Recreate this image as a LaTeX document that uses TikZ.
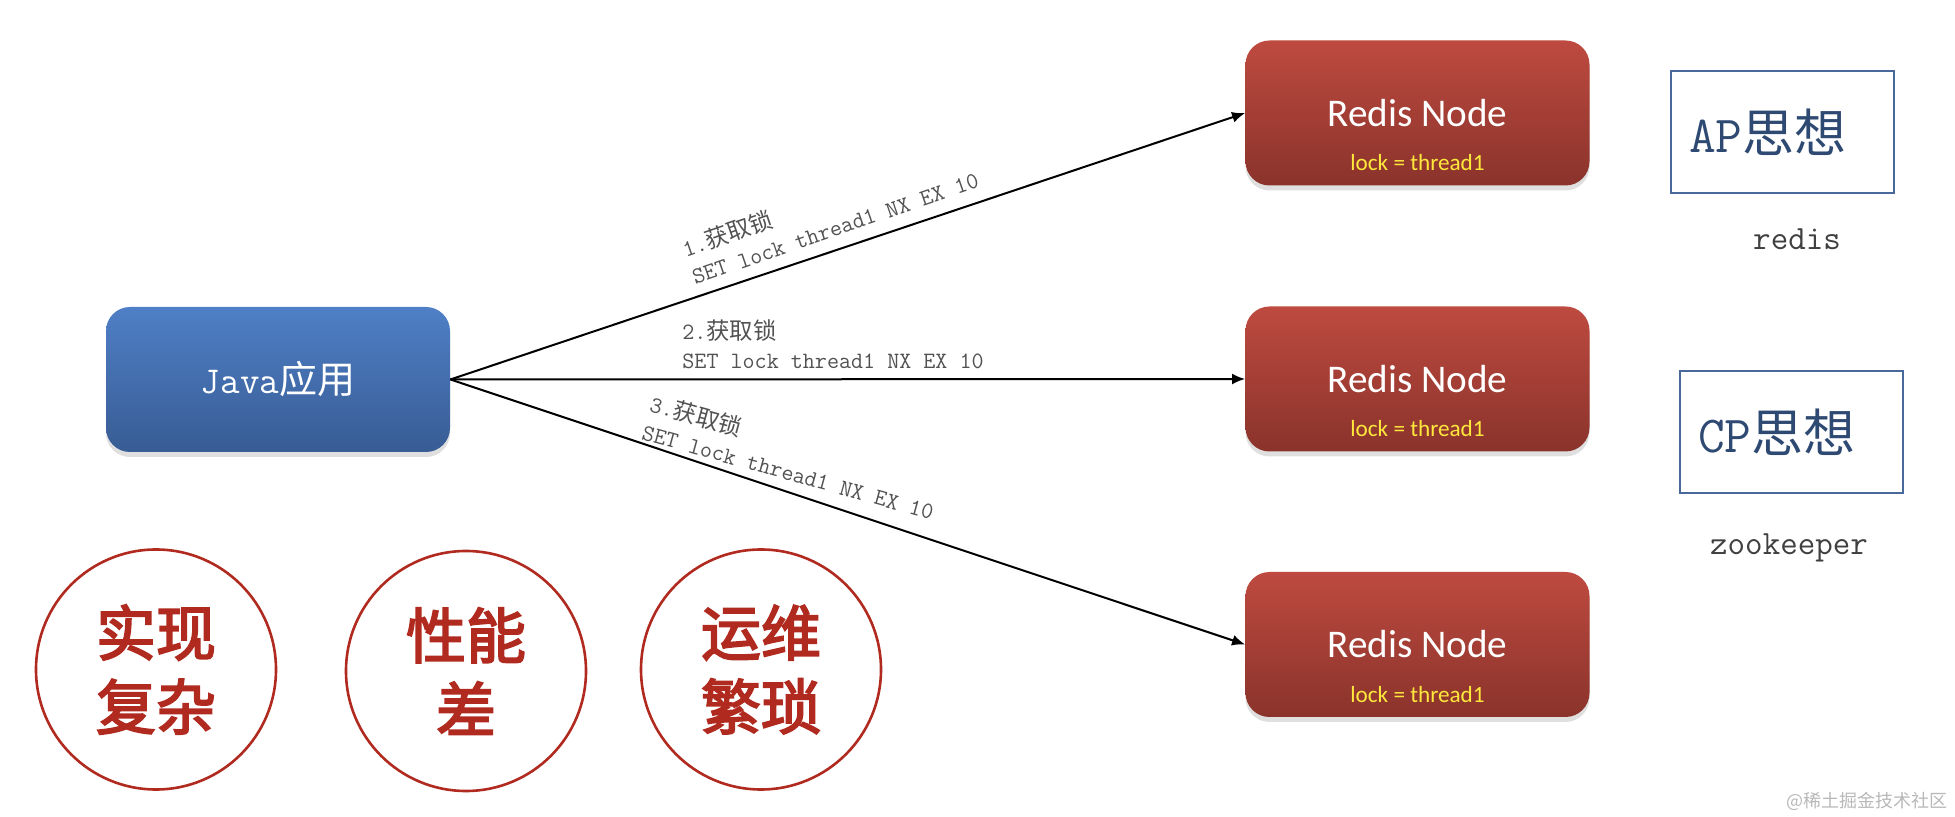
\documentclass[tikz,border=0pt]{standalone}
\usepackage{fontspec}
\newfontfamily\cjk{Noto Sans CJK SC}
\newfontfamily\cjkstamp[FakeBold=3]{Noto Sans CJK SC}
\newfontfamily\cali{Carlito}
\usetikzlibrary{shadows,arrows.meta}
\definecolor{redtop}{HTML}{BE4A40}
\definecolor{redmid}{HTML}{B0443A}
\definecolor{redbot}{HTML}{8A332B}
\definecolor{bluetop}{HTML}{4F7FC6}
\definecolor{bluemid}{HTML}{4873B4}
\definecolor{bluebot}{HTML}{385C94}
\definecolor{stampred}{HTML}{B02A20}
\definecolor{boxblue}{HTML}{48699A}
\definecolor{inkblue}{HTML}{2F4A72}
\definecolor{lockyellow}{HTML}{FFE83C}
\tikzset{>={Latex[length=6.5pt,width=5.5pt]}}
\tikzset{
	app/.style={rounded corners=12pt,minimum width=172pt,minimum height=72.5pt,inner sep=0pt,
		drop shadow={shadow xshift=0pt,shadow yshift=-2.5pt,opacity=.25}},
	rednode/.style={app,top color=redtop,middle color=redmid,bottom color=redbot,text=white,font=\cali\fontsize{19.6}{22}\selectfont},
	javanode/.style={app,top color=bluetop,middle color=bluemid,bottom color=bluebot,text=white,font=\ttfamily\fontsize{19}{22}\selectfont},
	locktext/.style={text=lockyellow,inner sep=0pt,font=\cali\fontsize{11.6}{13}\selectfont},
	steptext/.style={text=black!68,align=left,inner sep=0pt,anchor=west,font=\ttfamily\fontsize{11.7}{14.5}\selectfont},
	stamp/.style={circle,draw=stampred,line width=1.3pt,minimum size=120pt,inner sep=0pt,align=center,
		text=stampred,font=\cjkstamp\fontsize{30}{37}\selectfont},
	ideabox/.style={draw=boxblue,line width=1pt,text=inkblue,minimum height=61pt,text width=93.5pt,
		inner xsep=9pt,inner ysep=0pt,align=left,font=\ttfamily\fontsize{26}{28}\selectfont},
	tooltext/.style={text=black!75,inner sep=0pt,font=\ttfamily\fontsize{17}{20}\selectfont},
}
\begin{document}
\begin{tikzpicture}[x=0.5pt,y=-0.5pt]
	\useasboundingbox (0,0) rectangle (1955,817);
	\node[javanode] (java) at (278,379.5) {Java{\cjk 应用}};
	\foreach \i/\y in {1/113,2/379,3/644.5}{
		\node[rednode] (redis\i) at (1417.5,\y) {Redis Node};
		\node[locktext] (lock\i) at (1417.5,\y+50) {lock = thread1};
	}
	\foreach \i in {1,2,3}
		\draw[->,line width=1pt] (java.east) -- (redis\i.west);
	\node[steptext,rotate=19] (step1) at (687,262) {1.{\cjk 获取锁}\\SET lock thread1 NX EX 10};
	\node[steptext] (step2) at (682,344) {2.{\cjk 获取锁}\\SET lock thread1 NX EX 10};
	\node[steptext,rotate=-15.5] (step3) at (647,416) {3.{\cjk 获取锁}\\SET lock thread1 NX EX 10};
%	the three circles
	\node[stamp] (hard) at (156,669.5) {实现\\复杂};
	\node[stamp] (slow) at (466,671) {性能\\差};
	\node[stamp] (ops) at (761,669.5) {运维\\繁琐};
	\node[ideabox] (ap) at (1782.5,132) {AP{\cjk 思想}};
	\node[ideabox] (cp) at (1791.5,432.5) {CP{\cjk 思想}};
	\node[tooltext] (redislabel) at (1797,239) {redis};
	\node[tooltext] (zklabel) at (1789,548) {zookeeper};
	\node[text=black!28,inner sep=0pt,anchor=east,font=\cjk\fontsize{9}{11}\selectfont] (mark) at (1948,801) {@稀土掘金技术社区};
\end{tikzpicture}
\end{document}
